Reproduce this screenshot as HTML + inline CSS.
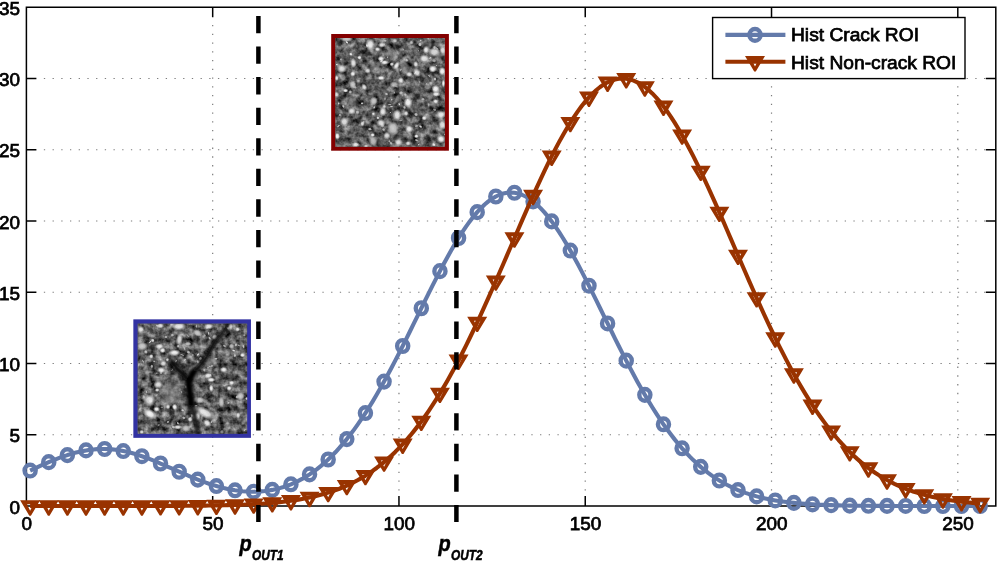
<!DOCTYPE html>
<html lang="en"><head><meta charset="utf-8"><title>Histogram of crack and non-crack ROI</title>
<style>html,body{margin:0;padding:0;background:#fff;overflow:hidden}svg{display:block}text{font-family:"Liberation Sans",Arial,Helvetica,sans-serif;fill:#000}</style></head><body>
<svg width="1000" height="563" viewBox="0 0 1000 563">
<defs>
<filter id="n1" x="0" y="0" width="100%" height="100%" color-interpolation-filters="sRGB"><feTurbulence type="fractalNoise" baseFrequency="0.16" numOctaves="3" seed="7" result="t"/><feColorMatrix type="matrix" values="0.95 0 0 0 -0.12  0.95 0 0 0 -0.12  0.95 0 0 0 -0.12  0 0 0 0 1"/><feGaussianBlur stdDeviation="0.45"/></filter>
<filter id="n2" x="0" y="0" width="100%" height="100%" color-interpolation-filters="sRGB"><feTurbulence type="fractalNoise" baseFrequency="0.16" numOctaves="3" seed="23" result="t"/><feColorMatrix type="matrix" values="0.95 0 0 0 -0.12  0.95 0 0 0 -0.12  0.95 0 0 0 -0.12  0 0 0 0 1"/><feGaussianBlur stdDeviation="0.45"/></filter>
<filter id="b1" x="-20%" y="-20%" width="140%" height="140%"><feGaussianBlur stdDeviation="0.9"/></filter>
<radialGradient id="gb"><stop offset="0" stop-color="#f6f6f6"/><stop offset="0.4" stop-color="#efefef" stop-opacity="0.93"/><stop offset="0.72" stop-color="#d8d8d8" stop-opacity="0.45"/><stop offset="1" stop-color="#bbb" stop-opacity="0"/></radialGradient>
<radialGradient id="gm"><stop offset="0" stop-color="#d0d0d0"/><stop offset="0.5" stop-color="#c4c4c4" stop-opacity="0.9"/><stop offset="0.8" stop-color="#aaa" stop-opacity="0.45"/><stop offset="1" stop-color="#999" stop-opacity="0"/></radialGradient>
<radialGradient id="gg"><stop offset="0" stop-color="#a0a0a0" stop-opacity="0.6"/><stop offset="0.6" stop-color="#999" stop-opacity="0.45"/><stop offset="1" stop-color="#888" stop-opacity="0"/></radialGradient>
<filter id="b2" x="-20%" y="-20%" width="140%" height="140%"><feGaussianBlur stdDeviation="1.6"/></filter>
<filter id="b3" x="-20%" y="-20%" width="140%" height="140%"><feGaussianBlur stdDeviation="3"/></filter>
<clipPath id="c1"><rect x="335.4" y="38" width="109.5" height="108.7"/></clipPath>
<clipPath id="c2"><rect x="137.8" y="323.8" width="109.4" height="110"/></clipPath>
</defs>
<rect width="1000" height="563" fill="#fff"/>
<g stroke="#7c7c7c" stroke-width="1.2" fill="none">
<line x1="212.68" y1="24.95" x2="212.68" y2="496.00" stroke-dasharray="1.3 7.46"/>
<line x1="398.96" y1="24.95" x2="398.96" y2="496.00" stroke-dasharray="1.3 7.46"/>
<line x1="585.24" y1="24.95" x2="585.24" y2="496.00" stroke-dasharray="1.3 7.46"/>
<line x1="771.52" y1="24.95" x2="771.52" y2="496.00" stroke-dasharray="1.3 7.46"/>
<line x1="957.80" y1="24.95" x2="957.80" y2="496.00" stroke-dasharray="1.3 7.46"/>
<line x1="43.85" y1="434.75" x2="985.80" y2="434.75" stroke-dasharray="1.3 7.405"/>
<line x1="43.85" y1="363.50" x2="985.80" y2="363.50" stroke-dasharray="1.3 7.405"/>
<line x1="43.85" y1="292.25" x2="985.80" y2="292.25" stroke-dasharray="1.3 7.405"/>
<line x1="43.85" y1="221.00" x2="985.80" y2="221.00" stroke-dasharray="1.3 7.405"/>
<line x1="43.85" y1="149.75" x2="985.80" y2="149.75" stroke-dasharray="1.3 7.405"/>
<line x1="43.85" y1="78.50" x2="985.80" y2="78.50" stroke-dasharray="1.3 7.405"/>
</g>
<g stroke="#000" stroke-width="1.5" fill="none">
<rect x="26.40" y="7.25" width="969.40" height="498.75"/>
<line x1="212.68" y1="7.25" x2="212.68" y2="17.25"/>
<line x1="212.68" y1="506.00" x2="212.68" y2="496.00"/>
<line x1="398.96" y1="7.25" x2="398.96" y2="17.25"/>
<line x1="398.96" y1="506.00" x2="398.96" y2="496.00"/>
<line x1="585.24" y1="7.25" x2="585.24" y2="17.25"/>
<line x1="585.24" y1="506.00" x2="585.24" y2="496.00"/>
<line x1="771.52" y1="7.25" x2="771.52" y2="17.25"/>
<line x1="771.52" y1="506.00" x2="771.52" y2="496.00"/>
<line x1="957.80" y1="7.25" x2="957.80" y2="17.25"/>
<line x1="957.80" y1="506.00" x2="957.80" y2="496.00"/>
<line x1="26.40" y1="434.75" x2="36.40" y2="434.75"/>
<line x1="995.80" y1="434.75" x2="985.80" y2="434.75"/>
<line x1="26.40" y1="363.50" x2="36.40" y2="363.50"/>
<line x1="995.80" y1="363.50" x2="985.80" y2="363.50"/>
<line x1="26.40" y1="292.25" x2="36.40" y2="292.25"/>
<line x1="995.80" y1="292.25" x2="985.80" y2="292.25"/>
<line x1="26.40" y1="221.00" x2="36.40" y2="221.00"/>
<line x1="995.80" y1="221.00" x2="985.80" y2="221.00"/>
<line x1="26.40" y1="149.75" x2="36.40" y2="149.75"/>
<line x1="995.80" y1="149.75" x2="985.80" y2="149.75"/>
<line x1="26.40" y1="78.50" x2="36.40" y2="78.50"/>
<line x1="995.80" y1="78.50" x2="985.80" y2="78.50"/>
</g>
<g font-size="18.9" stroke="#000" stroke-width="0.75">
<text x="26.70" y="530.3" text-anchor="middle">0</text>
<text x="212.98" y="530.3" text-anchor="middle">50</text>
<text x="399.26" y="530.3" text-anchor="middle">100</text>
<text x="585.54" y="530.3" text-anchor="middle">150</text>
<text x="771.82" y="530.3" text-anchor="middle">200</text>
<text x="958.10" y="530.3" text-anchor="middle">250</text>
<text x="20" y="513.70" text-anchor="end">0</text>
<text x="20" y="442.45" text-anchor="end">5</text>
<text x="20" y="371.20" text-anchor="end">10</text>
<text x="20" y="299.95" text-anchor="end">15</text>
<text x="20" y="228.70" text-anchor="end">20</text>
<text x="20" y="157.45" text-anchor="end">25</text>
<text x="20" y="86.20" text-anchor="end">30</text>
<text x="20" y="14.95" text-anchor="end">35</text>
</g>
<g id="inset1">
<rect x="333.3" y="36.1" width="113.5" height="112.5" fill="#606060" stroke="#830000" stroke-width="4.2"/>
<g clip-path="url(#c1)">
<rect x="335" y="37.5" width="110.5" height="110" filter="url(#n1)"/>
<g>
<ellipse cx="384.9" cy="98.8" rx="2.1" ry="1.5" fill="url(#gm)" transform="rotate(105 384.9 98.8)" opacity="0.62"/>
<ellipse cx="391.5" cy="106.5" rx="1.9" ry="1.0" fill="url(#gm)" transform="rotate(16 391.5 106.5)" opacity="0.87"/>
<ellipse cx="411.3" cy="42.6" rx="2.2" ry="2.2" fill="url(#gb)" transform="rotate(110 411.3 42.6)" opacity="0.61"/>
<ellipse cx="337.0" cy="95.4" rx="1.0" ry="1.1" fill="url(#gm)" transform="rotate(5 337.0 95.4)" opacity="0.74"/>
<ellipse cx="383.6" cy="129.6" rx="1.6" ry="1.7" fill="url(#gm)" transform="rotate(119 383.6 129.6)" opacity="0.73"/>
<ellipse cx="365.9" cy="146.4" rx="2.2" ry="2.0" fill="url(#gb)" transform="rotate(56 365.9 146.4)" opacity="0.64"/>
<ellipse cx="367.0" cy="45.6" rx="1.9" ry="1.4" fill="url(#gb)" transform="rotate(69 367.0 45.6)" opacity="0.93"/>
<ellipse cx="428.2" cy="38.1" rx="1.2" ry="2.1" fill="url(#gm)" transform="rotate(176 428.2 38.1)" opacity="0.71"/>
<ellipse cx="343.4" cy="106.4" rx="1.9" ry="1.3" fill="url(#gm)" transform="rotate(59 343.4 106.4)" opacity="0.94"/>
<ellipse cx="418.4" cy="50.8" rx="1.2" ry="1.0" fill="url(#gm)" transform="rotate(143 418.4 50.8)" opacity="0.62"/>
<ellipse cx="396.6" cy="86.6" rx="1.1" ry="1.9" fill="url(#gm)" transform="rotate(115 396.6 86.6)" opacity="0.6"/>
<ellipse cx="381.5" cy="61.1" rx="1.3" ry="2.2" fill="url(#gb)" transform="rotate(54 381.5 61.1)" opacity="0.9"/>
<ellipse cx="358.5" cy="80.9" rx="2.0" ry="1.7" fill="url(#gm)" transform="rotate(178 358.5 80.9)" opacity="0.64"/>
<ellipse cx="363.7" cy="122.0" rx="1.3" ry="1.3" fill="url(#gm)" transform="rotate(16 363.7 122.0)" opacity="0.78"/>
<ellipse cx="362.0" cy="103.4" rx="1.4" ry="1.5" fill="url(#gb)" transform="rotate(87 362.0 103.4)" opacity="0.78"/>
<ellipse cx="430.3" cy="57.9" rx="1.1" ry="2.1" fill="url(#gb)" transform="rotate(44 430.3 57.9)" opacity="0.63"/>
<ellipse cx="416.4" cy="140.2" rx="1.2" ry="2.1" fill="url(#gb)" transform="rotate(108 416.4 140.2)" opacity="0.72"/>
<ellipse cx="346.8" cy="42.2" rx="2.2" ry="1.2" fill="url(#gb)" transform="rotate(46 346.8 42.2)" opacity="0.88"/>
<ellipse cx="400.7" cy="69.9" rx="1.1" ry="1.8" fill="url(#gm)" transform="rotate(41 400.7 69.9)" opacity="0.77"/>
<ellipse cx="428.7" cy="104.8" rx="1.3" ry="2.1" fill="url(#gm)" transform="rotate(2 428.7 104.8)" opacity="0.66"/>
<ellipse cx="384.2" cy="44.6" rx="1.1" ry="1.4" fill="url(#gm)" transform="rotate(23 384.2 44.6)" opacity="0.69"/>
<ellipse cx="433.0" cy="144.6" rx="1.8" ry="1.8" fill="url(#gm)" transform="rotate(25 433.0 144.6)" opacity="0.56"/>
<ellipse cx="337.4" cy="136.9" rx="1.8" ry="2.2" fill="url(#gm)" transform="rotate(114 337.4 136.9)" opacity="0.74"/>
<ellipse cx="415.4" cy="72.7" rx="2.2" ry="1.0" fill="url(#gm)" transform="rotate(132 415.4 72.7)" opacity="0.91"/>
<ellipse cx="416.1" cy="114.5" rx="1.9" ry="2.1" fill="url(#gm)" transform="rotate(123 416.1 114.5)" opacity="0.91"/>
<ellipse cx="430.8" cy="83.3" rx="1.9" ry="2.0" fill="url(#gm)" transform="rotate(112 430.8 83.3)" opacity="0.7"/>
<ellipse cx="399.2" cy="104.2" rx="1.0" ry="1.7" fill="url(#gb)" transform="rotate(158 399.2 104.2)" opacity="0.84"/>
<ellipse cx="377.9" cy="117.9" rx="1.7" ry="1.5" fill="url(#gb)" transform="rotate(15 377.9 117.9)" opacity="0.85"/>
<ellipse cx="338.7" cy="103.4" rx="1.5" ry="1.2" fill="url(#gb)" transform="rotate(89 338.7 103.4)" opacity="0.8"/>
<ellipse cx="436.2" cy="65.8" rx="0.9" ry="1.3" fill="url(#gb)" transform="rotate(36 436.2 65.8)" opacity="0.62"/>
<ellipse cx="434.6" cy="109.7" rx="1.5" ry="2.1" fill="url(#gm)" transform="rotate(119 434.6 109.7)" opacity="0.63"/>
<ellipse cx="382.6" cy="125.6" rx="2.1" ry="2.0" fill="url(#gm)" transform="rotate(104 382.6 125.6)" opacity="0.68"/>
<ellipse cx="350.3" cy="92.0" rx="2.0" ry="2.0" fill="url(#gb)" transform="rotate(171 350.3 92.0)" opacity="0.66"/>
<ellipse cx="353.9" cy="87.0" rx="1.3" ry="1.2" fill="url(#gm)" transform="rotate(112 353.9 87.0)" opacity="0.75"/>
<ellipse cx="369.9" cy="129.2" rx="2.2" ry="1.5" fill="url(#gm)" transform="rotate(5 369.9 129.2)" opacity="0.9"/>
<ellipse cx="339.9" cy="115.0" rx="1.6" ry="1.3" fill="url(#gb)" transform="rotate(3 339.9 115.0)" opacity="0.6"/>
<ellipse cx="385.2" cy="40.7" rx="2.0" ry="1.2" fill="url(#gm)" transform="rotate(8 385.2 40.7)" opacity="0.8"/>
<ellipse cx="384.3" cy="106.5" rx="1.8" ry="1.9" fill="url(#gb)" transform="rotate(123 384.3 106.5)" opacity="0.63"/>
<ellipse cx="387.4" cy="57.4" rx="0.9" ry="1.5" fill="url(#gb)" transform="rotate(32 387.4 57.4)" opacity="0.66"/>
<ellipse cx="373.3" cy="113.8" rx="1.6" ry="1.7" fill="url(#gb)" transform="rotate(70 373.3 113.8)" opacity="0.87"/>
<ellipse cx="434.6" cy="47.5" rx="2.1" ry="1.8" fill="url(#gm)" transform="rotate(81 434.6 47.5)" opacity="0.8"/>
<ellipse cx="435.0" cy="79.0" rx="1.6" ry="2.0" fill="url(#gb)" transform="rotate(169 435.0 79.0)" opacity="0.74"/>
<ellipse cx="406.7" cy="60.3" rx="1.8" ry="2.0" fill="url(#gb)" transform="rotate(129 406.7 60.3)" opacity="0.64"/>
<ellipse cx="433.9" cy="144.6" rx="2.2" ry="1.6" fill="url(#gb)" transform="rotate(57 433.9 144.6)" opacity="0.91"/>
<ellipse cx="429.1" cy="75.9" rx="1.0" ry="1.5" fill="url(#gm)" transform="rotate(138 429.1 75.9)" opacity="0.74"/>
<ellipse cx="338.5" cy="126.0" rx="1.0" ry="1.9" fill="url(#gm)" transform="rotate(60 338.5 126.0)" opacity="0.87"/>
<ellipse cx="350.8" cy="54.2" rx="1.6" ry="1.8" fill="url(#gb)" transform="rotate(124 350.8 54.2)" opacity="0.93"/>
<ellipse cx="389.3" cy="141.2" rx="1.0" ry="1.2" fill="url(#gm)" transform="rotate(52 389.3 141.2)" opacity="0.84"/>
<ellipse cx="405.4" cy="94.8" rx="2.0" ry="1.6" fill="url(#gm)" transform="rotate(68 405.4 94.8)" opacity="0.89"/>
<ellipse cx="434.0" cy="60.6" rx="2.0" ry="2.2" fill="url(#gm)" transform="rotate(103 434.0 60.6)" opacity="0.63"/>
<ellipse cx="394.1" cy="92.7" rx="1.7" ry="0.9" fill="url(#gb)" transform="rotate(92 394.1 92.7)" opacity="0.71"/>
<ellipse cx="423.1" cy="99.2" rx="1.5" ry="1.8" fill="url(#gm)" transform="rotate(96 423.1 99.2)" opacity="0.72"/>
<ellipse cx="440.2" cy="138.4" rx="1.2" ry="1.5" fill="url(#gm)" transform="rotate(78 440.2 138.4)" opacity="0.88"/>
<ellipse cx="434.0" cy="89.8" rx="1.3" ry="1.1" fill="url(#gb)" transform="rotate(166 434.0 89.8)" opacity="0.6"/>
<ellipse cx="420.7" cy="40.5" rx="1.2" ry="1.2" fill="url(#gb)" transform="rotate(57 420.7 40.5)" opacity="0.69"/>
<ellipse cx="403.3" cy="49.4" rx="1.9" ry="1.1" fill="url(#gm)" transform="rotate(45 403.3 49.4)" opacity="0.63"/>
<ellipse cx="393.5" cy="85.5" rx="1.4" ry="1.4" fill="url(#gm)" transform="rotate(28 393.5 85.5)" opacity="0.63"/>
<ellipse cx="404.5" cy="107.4" rx="1.6" ry="2.0" fill="url(#gb)" transform="rotate(154 404.5 107.4)" opacity="0.64"/>
<ellipse cx="416.5" cy="126.1" rx="2.1" ry="1.3" fill="url(#gm)" transform="rotate(166 416.5 126.1)" opacity="0.64"/>
<ellipse cx="444.7" cy="134.5" rx="1.1" ry="1.2" fill="url(#gb)" transform="rotate(46 444.7 134.5)" opacity="0.59"/>
<ellipse cx="426.5" cy="83.8" rx="1.9" ry="1.1" fill="url(#gm)" transform="rotate(123 426.5 83.8)" opacity="0.56"/>
<ellipse cx="357.4" cy="112.2" rx="2.1" ry="2.2" fill="url(#gm)" transform="rotate(91 357.4 112.2)" opacity="0.85"/>
<ellipse cx="390.5" cy="112.5" rx="1.1" ry="1.0" fill="url(#gm)" transform="rotate(6 390.5 112.5)" opacity="0.77"/>
<ellipse cx="391.8" cy="99.8" rx="1.1" ry="1.1" fill="url(#gm)" transform="rotate(151 391.8 99.8)" opacity="0.95"/>
<ellipse cx="436.9" cy="48.4" rx="1.0" ry="2.1" fill="url(#gm)" transform="rotate(137 436.9 48.4)" opacity="0.68"/>
<ellipse cx="386.5" cy="94.0" rx="1.5" ry="1.7" fill="url(#gm)" transform="rotate(126 386.5 94.0)" opacity="0.89"/>
<ellipse cx="355.2" cy="87.3" rx="1.9" ry="1.4" fill="url(#gm)" transform="rotate(29 355.2 87.3)" opacity="0.76"/>
<ellipse cx="337.1" cy="135.1" rx="1.9" ry="1.8" fill="url(#gb)" transform="rotate(113 337.1 135.1)" opacity="0.71"/>
<ellipse cx="401.1" cy="92.8" rx="2.2" ry="1.9" fill="url(#gm)" transform="rotate(164 401.1 92.8)" opacity="0.85"/>
<ellipse cx="420.6" cy="126.6" rx="1.4" ry="2.1" fill="url(#gb)" transform="rotate(125 420.6 126.6)" opacity="0.86"/>
<ellipse cx="419.2" cy="82.1" rx="1.8" ry="1.0" fill="url(#gm)" transform="rotate(84 419.2 82.1)" opacity="0.55"/>
<ellipse cx="374.3" cy="107.4" rx="1.7" ry="1.2" fill="url(#gb)" transform="rotate(119 374.3 107.4)" opacity="0.69"/>
<ellipse cx="407.6" cy="99.9" rx="1.6" ry="1.4" fill="url(#gb)" transform="rotate(115 407.6 99.9)" opacity="0.83"/>
<ellipse cx="418.8" cy="144.5" rx="0.9" ry="1.7" fill="url(#gb)" transform="rotate(46 418.8 144.5)" opacity="0.71"/>
<ellipse cx="340.9" cy="59.2" rx="1.4" ry="1.0" fill="url(#gm)" transform="rotate(163 340.9 59.2)" opacity="0.77"/>
<ellipse cx="391.0" cy="143.1" rx="1.6" ry="2.2" fill="url(#gb)" transform="rotate(145 391.0 143.1)" opacity="0.58"/>
<ellipse cx="400.8" cy="120.5" rx="1.0" ry="2.1" fill="url(#gm)" transform="rotate(84 400.8 120.5)" opacity="0.62"/>
<ellipse cx="389.7" cy="104.4" rx="1.0" ry="2.1" fill="url(#gm)" transform="rotate(94 389.7 104.4)" opacity="0.79"/>
<ellipse cx="375.4" cy="69.1" rx="1.8" ry="1.6" fill="url(#gm)" transform="rotate(128 375.4 69.1)" opacity="0.67"/>
<ellipse cx="336.9" cy="64.6" rx="1.0" ry="1.1" fill="url(#gb)" transform="rotate(70 336.9 64.6)" opacity="0.91"/>
</g>
<g>
<ellipse cx="391.2" cy="55.2" rx="6.6" ry="5.9" fill="url(#gg)" opacity="0.94"/>
<ellipse cx="374.4" cy="67.8" rx="5.9" ry="5.1" fill="url(#gg)" opacity="0.96"/>
<ellipse cx="404.4" cy="67.8" rx="5.9" ry="6.6" fill="url(#gg)" opacity="0.97"/>
<ellipse cx="352.2" cy="101.4" rx="5.1" ry="5.1" fill="url(#gg)" opacity="0.99"/>
</g>
<g>
<ellipse cx="346.8" cy="39.0" rx="6.6" ry="2.9" fill="url(#gm)" opacity="0.96"/>
<ellipse cx="352.8" cy="84.6" rx="3.6" ry="4.4" fill="url(#gm)" opacity="0.99"/>
<ellipse cx="394.2" cy="84.6" rx="4.4" ry="3.3" fill="url(#gm)" opacity="0.84"/>
<ellipse cx="394.8" cy="40.8" rx="2.4" ry="2.1" fill="url(#gm)" opacity="0.91"/>
<ellipse cx="420.0" cy="44.4" rx="2.1" ry="2.4" fill="url(#gm)" opacity="0.99"/>
<ellipse cx="373.8" cy="100.8" rx="3.9" ry="4.4" fill="url(#gm)" opacity="0.94"/>
<ellipse cx="393.0" cy="128.4" rx="5.9" ry="7.4" fill="url(#gm)" opacity="0.98"/>
<ellipse cx="373.2" cy="141.0" rx="4.4" ry="5.1" fill="url(#gm)" opacity="0.86"/>
</g>
<g>
<ellipse cx="370.2" cy="44.4" rx="5.0" ry="6.5" fill="url(#gb)" opacity="0.92"/>
<ellipse cx="381.6" cy="45.0" rx="3.8" ry="2.8" fill="url(#gb)" opacity="0.88"/>
<ellipse cx="377.4" cy="49.2" rx="2.8" ry="2.4" fill="url(#gb)" opacity="0.93"/>
<ellipse cx="426.0" cy="49.8" rx="3.2" ry="4.3" fill="url(#gb)" opacity="0.93"/>
<ellipse cx="434.4" cy="52.2" rx="6.2" ry="5.3" fill="url(#gb)" opacity="0.84"/>
<ellipse cx="442.8" cy="50.4" rx="3.5" ry="5.0" fill="url(#gb)" opacity="0.87"/>
<ellipse cx="424.2" cy="58.8" rx="5.3" ry="4.7" fill="url(#gb)" opacity="0.88"/>
<ellipse cx="381.0" cy="58.8" rx="3.5" ry="2.8" fill="url(#gb)" opacity="0.99"/>
<ellipse cx="384.6" cy="62.4" rx="4.3" ry="2.4" fill="url(#gb)" opacity="0.96"/>
<ellipse cx="353.4" cy="63.0" rx="3.2" ry="5.0" fill="url(#gb)" opacity="0.87"/>
<ellipse cx="359.4" cy="57.6" rx="2.4" ry="2.1" fill="url(#gb)" opacity="0.97"/>
<ellipse cx="342.0" cy="69.0" rx="5.3" ry="4.3" fill="url(#gb)" opacity="0.86"/>
<ellipse cx="396.6" cy="65.4" rx="2.8" ry="5.0" fill="url(#gb)" transform="rotate(30 396.6 65.4)" opacity="0.94"/>
<ellipse cx="391.8" cy="64.2" rx="2.4" ry="2.1" fill="url(#gb)" opacity="0.86"/>
<ellipse cx="367.8" cy="70.8" rx="3.2" ry="2.8" fill="url(#gb)" opacity="0.84"/>
<ellipse cx="352.8" cy="73.8" rx="2.8" ry="2.8" fill="url(#gb)" opacity="0.98"/>
<ellipse cx="417.0" cy="72.6" rx="3.8" ry="4.7" fill="url(#gb)" transform="rotate(-30 417.0 72.6)" opacity="0.87"/>
<ellipse cx="409.2" cy="74.4" rx="3.5" ry="2.8" fill="url(#gb)" opacity="0.87"/>
<ellipse cx="432.6" cy="69.0" rx="4.3" ry="3.8" fill="url(#gb)"/>
<ellipse cx="442.2" cy="71.4" rx="3.8" ry="4.7" fill="url(#gb)" opacity="0.98"/>
<ellipse cx="415.8" cy="64.2" rx="2.8" ry="3.5" fill="url(#gb)" opacity="0.89"/>
<ellipse cx="381.0" cy="78.0" rx="4.3" ry="2.4" fill="url(#gb)" opacity="0.99"/>
<ellipse cx="400.8" cy="80.4" rx="3.2" ry="3.5" fill="url(#gb)" opacity="0.93"/>
<ellipse cx="336.6" cy="78.0" rx="2.1" ry="2.8" fill="url(#gb)" opacity="0.95"/>
<ellipse cx="364.2" cy="87.0" rx="2.8" ry="3.8" fill="url(#gb)" transform="rotate(-30 364.2 87.0)" opacity="0.87"/>
<ellipse cx="435.6" cy="88.8" rx="4.3" ry="4.3" fill="url(#gb)" opacity="0.99"/>
<ellipse cx="345.6" cy="90.6" rx="2.8" ry="2.1" fill="url(#gb)" opacity="0.95"/>
<ellipse cx="443.4" cy="83.4" rx="1.8" ry="4.3" fill="url(#gb)" opacity="0.99"/>
<ellipse cx="408.0" cy="102.6" rx="4.7" ry="5.3" fill="url(#gb)" opacity="0.98"/>
<ellipse cx="351.6" cy="111.0" rx="4.3" ry="3.5" fill="url(#gb)" opacity="0.89"/>
<ellipse cx="382.8" cy="111.6" rx="3.8" ry="4.7" fill="url(#gb)" opacity="0.9"/>
<ellipse cx="397.2" cy="115.2" rx="4.3" ry="6.5" fill="url(#gb)" opacity="0.87"/>
<ellipse cx="344.4" cy="121.8" rx="4.7" ry="5.0" fill="url(#gb)" opacity="0.86"/>
<ellipse cx="381.0" cy="123.0" rx="4.7" ry="4.3" fill="url(#gb)" opacity="0.85"/>
<ellipse cx="362.4" cy="123.6" rx="2.4" ry="2.8" fill="url(#gb)" opacity="0.89"/>
<ellipse cx="409.2" cy="129.0" rx="4.3" ry="3.8" fill="url(#gb)" opacity="0.94"/>
<ellipse cx="387.0" cy="135.6" rx="3.8" ry="3.8" fill="url(#gb)" opacity="0.84"/>
<ellipse cx="441.0" cy="139.2" rx="5.0" ry="4.3" fill="url(#gb)" opacity="0.95"/>
<ellipse cx="442.2" cy="124.8" rx="4.3" ry="5.7" fill="url(#gb)" opacity="0.89"/>
<ellipse cx="441.0" cy="114.6" rx="5.0" ry="4.3" fill="url(#gb)" opacity="0.89"/>
<ellipse cx="436.2" cy="94.2" rx="4.3" ry="2.8" fill="url(#gb)" opacity="0.97"/>
<ellipse cx="435.6" cy="101.4" rx="2.8" ry="2.4" fill="url(#gb)" opacity="0.92"/>
<ellipse cx="398.4" cy="142.2" rx="4.3" ry="3.8" fill="url(#gb)" opacity="0.89"/>
<ellipse cx="355.8" cy="144.6" rx="4.3" ry="2.8" fill="url(#gb)" opacity="0.92"/>
<ellipse cx="424.2" cy="118.2" rx="2.8" ry="2.4" fill="url(#gb)" opacity="0.95"/>
<ellipse cx="406.2" cy="113.4" rx="2.4" ry="2.8" fill="url(#gb)" opacity="0.85"/>
<ellipse cx="337.2" cy="136.2" rx="2.8" ry="3.5" fill="url(#gb)"/>
<ellipse cx="408.0" cy="143.4" rx="2.8" ry="2.4" fill="url(#gb)" opacity="0.84"/>
<ellipse cx="372.6" cy="135.0" rx="2.4" ry="2.1" fill="url(#gb)" opacity="0.96"/>
<ellipse cx="416.4" cy="136.2" rx="2.4" ry="2.1" fill="url(#gb)" opacity="0.98"/>
<ellipse cx="336.0" cy="94.2" rx="3.5" ry="2.8" fill="url(#gb)" opacity="0.84"/>
</g>
</g></g>
<g id="inset2">
<rect x="135.5" y="321.5" width="113.3" height="114.2" fill="#606060" stroke="#3232A2" stroke-width="4.3"/>
<g clip-path="url(#c2)">
<rect x="137" y="323" width="111" height="111.5" filter="url(#n2)"/>
<g>
<ellipse cx="197.8" cy="361.8" rx="2.0" ry="1.3" fill="url(#gm)" transform="rotate(61 197.8 361.8)" opacity="0.72"/>
<ellipse cx="244.3" cy="335.2" rx="1.5" ry="1.2" fill="url(#gm)" transform="rotate(179 244.3 335.2)" opacity="0.68"/>
<ellipse cx="204.3" cy="370.0" rx="1.8" ry="1.5" fill="url(#gm)" transform="rotate(78 204.3 370.0)" opacity="0.71"/>
<ellipse cx="224.5" cy="385.7" rx="1.2" ry="1.8" fill="url(#gm)" transform="rotate(92 224.5 385.7)" opacity="0.64"/>
<ellipse cx="182.7" cy="410.3" rx="1.6" ry="1.9" fill="url(#gb)" transform="rotate(105 182.7 410.3)" opacity="0.81"/>
<ellipse cx="181.3" cy="391.8" rx="1.9" ry="1.0" fill="url(#gb)" transform="rotate(66 181.3 391.8)" opacity="0.61"/>
<ellipse cx="154.2" cy="361.3" rx="1.0" ry="1.4" fill="url(#gm)" transform="rotate(117 154.2 361.3)" opacity="0.74"/>
<ellipse cx="240.1" cy="396.3" rx="1.3" ry="2.0" fill="url(#gb)" transform="rotate(174 240.1 396.3)" opacity="0.84"/>
<ellipse cx="243.4" cy="346.4" rx="1.3" ry="2.2" fill="url(#gm)" transform="rotate(166 243.4 346.4)" opacity="0.91"/>
<ellipse cx="152.7" cy="340.4" rx="2.1" ry="2.1" fill="url(#gb)" transform="rotate(130 152.7 340.4)" opacity="0.85"/>
<ellipse cx="171.5" cy="324.6" rx="1.7" ry="2.0" fill="url(#gb)" transform="rotate(92 171.5 324.6)" opacity="0.55"/>
<ellipse cx="156.9" cy="373.2" rx="1.2" ry="0.9" fill="url(#gm)" transform="rotate(89 156.9 373.2)" opacity="0.6"/>
<ellipse cx="150.1" cy="342.0" rx="0.9" ry="1.9" fill="url(#gb)" transform="rotate(36 150.1 342.0)" opacity="0.8"/>
<ellipse cx="233.7" cy="350.6" rx="1.3" ry="2.0" fill="url(#gb)" transform="rotate(111 233.7 350.6)" opacity="0.87"/>
<ellipse cx="200.5" cy="358.4" rx="1.8" ry="1.9" fill="url(#gm)" transform="rotate(57 200.5 358.4)" opacity="0.67"/>
<ellipse cx="234.8" cy="355.5" rx="1.8" ry="1.5" fill="url(#gm)" transform="rotate(89 234.8 355.5)" opacity="0.91"/>
<ellipse cx="209.8" cy="366.6" rx="1.1" ry="1.3" fill="url(#gm)" transform="rotate(116 209.8 366.6)" opacity="0.95"/>
<ellipse cx="173.3" cy="427.2" rx="2.1" ry="1.5" fill="url(#gm)" transform="rotate(42 173.3 427.2)" opacity="0.92"/>
<ellipse cx="156.8" cy="395.1" rx="1.7" ry="1.1" fill="url(#gm)" transform="rotate(114 156.8 395.1)" opacity="0.57"/>
<ellipse cx="197.8" cy="430.7" rx="1.5" ry="1.3" fill="url(#gm)" transform="rotate(54 197.8 430.7)" opacity="0.68"/>
<ellipse cx="150.6" cy="401.1" rx="1.7" ry="1.8" fill="url(#gm)" transform="rotate(45 150.6 401.1)" opacity="0.92"/>
<ellipse cx="138.8" cy="364.5" rx="2.0" ry="1.2" fill="url(#gm)" transform="rotate(114 138.8 364.5)" opacity="0.65"/>
<ellipse cx="174.6" cy="366.9" rx="1.3" ry="1.8" fill="url(#gb)" transform="rotate(136 174.6 366.9)" opacity="0.94"/>
<ellipse cx="145.8" cy="352.0" rx="2.2" ry="1.9" fill="url(#gb)" transform="rotate(40 145.8 352.0)" opacity="0.6"/>
<ellipse cx="167.9" cy="422.0" rx="1.9" ry="1.4" fill="url(#gb)" transform="rotate(132 167.9 422.0)" opacity="0.66"/>
<ellipse cx="149.4" cy="413.0" rx="1.8" ry="1.9" fill="url(#gb)" transform="rotate(65 149.4 413.0)" opacity="0.81"/>
<ellipse cx="177.9" cy="423.2" rx="1.1" ry="1.8" fill="url(#gm)" transform="rotate(163 177.9 423.2)" opacity="0.87"/>
<ellipse cx="156.9" cy="325.5" rx="1.2" ry="2.1" fill="url(#gb)" transform="rotate(127 156.9 325.5)" opacity="0.63"/>
<ellipse cx="161.0" cy="372.8" rx="1.6" ry="1.7" fill="url(#gm)" transform="rotate(151 161.0 372.8)" opacity="0.65"/>
<ellipse cx="215.9" cy="358.7" rx="1.3" ry="2.0" fill="url(#gm)" transform="rotate(90 215.9 358.7)" opacity="0.9"/>
<ellipse cx="228.4" cy="402.8" rx="1.2" ry="1.7" fill="url(#gm)" transform="rotate(54 228.4 402.8)" opacity="0.86"/>
<ellipse cx="211.6" cy="422.1" rx="1.5" ry="1.1" fill="url(#gm)" transform="rotate(133 211.6 422.1)" opacity="0.83"/>
<ellipse cx="208.1" cy="367.5" rx="1.7" ry="1.0" fill="url(#gm)" transform="rotate(145 208.1 367.5)" opacity="0.59"/>
<ellipse cx="205.9" cy="356.7" rx="1.1" ry="1.9" fill="url(#gb)" transform="rotate(57 205.9 356.7)" opacity="0.61"/>
<ellipse cx="188.2" cy="336.2" rx="2.1" ry="0.9" fill="url(#gm)" transform="rotate(29 188.2 336.2)" opacity="0.55"/>
<ellipse cx="246.9" cy="398.6" rx="1.8" ry="1.9" fill="url(#gb)" transform="rotate(109 246.9 398.6)" opacity="0.82"/>
<ellipse cx="172.3" cy="335.1" rx="1.8" ry="1.9" fill="url(#gb)" transform="rotate(116 172.3 335.1)" opacity="0.58"/>
<ellipse cx="208.6" cy="333.2" rx="2.0" ry="0.9" fill="url(#gm)" transform="rotate(96 208.6 333.2)" opacity="0.9"/>
<ellipse cx="209.7" cy="338.2" rx="1.8" ry="1.2" fill="url(#gm)" transform="rotate(64 209.7 338.2)" opacity="0.87"/>
<ellipse cx="160.7" cy="359.3" rx="1.3" ry="1.2" fill="url(#gm)" transform="rotate(69 160.7 359.3)" opacity="0.62"/>
<ellipse cx="166.1" cy="337.0" rx="1.7" ry="1.8" fill="url(#gm)" transform="rotate(80 166.1 337.0)" opacity="0.79"/>
<ellipse cx="244.7" cy="430.1" rx="1.0" ry="2.1" fill="url(#gb)" transform="rotate(40 244.7 430.1)" opacity="0.63"/>
<ellipse cx="192.7" cy="355.0" rx="1.3" ry="1.4" fill="url(#gm)" transform="rotate(97 192.7 355.0)" opacity="0.56"/>
<ellipse cx="184.3" cy="348.3" rx="2.1" ry="1.1" fill="url(#gm)" transform="rotate(63 184.3 348.3)" opacity="0.65"/>
<ellipse cx="228.0" cy="328.1" rx="2.1" ry="1.7" fill="url(#gb)" transform="rotate(46 228.0 328.1)" opacity="0.76"/>
<ellipse cx="161.8" cy="407.5" rx="1.6" ry="1.2" fill="url(#gm)" transform="rotate(3 161.8 407.5)" opacity="0.58"/>
<ellipse cx="202.4" cy="433.7" rx="2.1" ry="1.3" fill="url(#gm)" transform="rotate(116 202.4 433.7)" opacity="0.75"/>
<ellipse cx="224.4" cy="345.9" rx="1.4" ry="2.1" fill="url(#gm)" transform="rotate(123 224.4 345.9)" opacity="0.73"/>
<ellipse cx="192.1" cy="415.4" rx="2.2" ry="1.6" fill="url(#gb)" transform="rotate(48 192.1 415.4)" opacity="0.68"/>
<ellipse cx="175.9" cy="361.2" rx="2.2" ry="1.1" fill="url(#gb)" transform="rotate(128 175.9 361.2)" opacity="0.79"/>
<ellipse cx="191.1" cy="417.2" rx="0.9" ry="2.1" fill="url(#gm)" transform="rotate(42 191.1 417.2)" opacity="0.55"/>
<ellipse cx="224.5" cy="326.8" rx="2.0" ry="1.2" fill="url(#gb)" transform="rotate(110 224.5 326.8)" opacity="0.94"/>
<ellipse cx="143.1" cy="361.3" rx="2.2" ry="0.9" fill="url(#gm)" transform="rotate(64 143.1 361.3)" opacity="0.74"/>
<ellipse cx="211.9" cy="365.9" rx="1.4" ry="1.3" fill="url(#gm)" transform="rotate(123 211.9 365.9)" opacity="0.91"/>
<ellipse cx="198.0" cy="354.5" rx="2.2" ry="1.3" fill="url(#gb)" transform="rotate(133 198.0 354.5)" opacity="0.75"/>
<ellipse cx="167.5" cy="359.7" rx="1.8" ry="2.2" fill="url(#gb)" transform="rotate(80 167.5 359.7)" opacity="0.8"/>
<ellipse cx="188.5" cy="352.2" rx="2.0" ry="1.7" fill="url(#gm)" transform="rotate(25 188.5 352.2)" opacity="0.83"/>
<ellipse cx="140.0" cy="409.1" rx="1.0" ry="2.0" fill="url(#gm)" transform="rotate(8 140.0 409.1)" opacity="0.91"/>
<ellipse cx="210.3" cy="374.9" rx="1.2" ry="1.8" fill="url(#gm)" transform="rotate(166 210.3 374.9)" opacity="0.86"/>
<ellipse cx="222.0" cy="431.9" rx="2.2" ry="2.1" fill="url(#gm)" transform="rotate(63 222.0 431.9)" opacity="0.6"/>
<ellipse cx="183.9" cy="417.8" rx="2.0" ry="1.6" fill="url(#gm)" transform="rotate(10 183.9 417.8)" opacity="0.82"/>
<ellipse cx="172.3" cy="369.8" rx="0.9" ry="2.0" fill="url(#gm)" transform="rotate(35 172.3 369.8)" opacity="0.73"/>
<ellipse cx="151.8" cy="366.3" rx="2.1" ry="1.6" fill="url(#gm)" transform="rotate(91 151.8 366.3)" opacity="0.83"/>
<ellipse cx="237.3" cy="396.9" rx="2.2" ry="1.9" fill="url(#gm)" transform="rotate(139 237.3 396.9)" opacity="0.93"/>
<ellipse cx="236.0" cy="344.8" rx="2.1" ry="1.6" fill="url(#gb)" transform="rotate(124 236.0 344.8)" opacity="0.61"/>
<ellipse cx="196.4" cy="326.4" rx="1.6" ry="1.2" fill="url(#gm)" transform="rotate(97 196.4 326.4)" opacity="0.77"/>
<ellipse cx="143.9" cy="396.9" rx="2.1" ry="1.6" fill="url(#gm)" transform="rotate(87 143.9 396.9)" opacity="0.7"/>
<ellipse cx="196.0" cy="405.7" rx="1.9" ry="1.2" fill="url(#gb)" transform="rotate(177 196.0 405.7)" opacity="0.72"/>
<ellipse cx="185.0" cy="359.9" rx="0.9" ry="1.8" fill="url(#gb)" transform="rotate(74 185.0 359.9)" opacity="0.66"/>
<ellipse cx="207.1" cy="327.8" rx="1.5" ry="1.3" fill="url(#gm)" transform="rotate(143 207.1 327.8)" opacity="0.9"/>
<ellipse cx="174.6" cy="407.7" rx="1.1" ry="2.0" fill="url(#gm)" transform="rotate(159 174.6 407.7)" opacity="0.93"/>
<ellipse cx="186.1" cy="386.8" rx="2.0" ry="1.7" fill="url(#gb)" transform="rotate(58 186.1 386.8)" opacity="0.69"/>
<ellipse cx="183.2" cy="355.4" rx="1.0" ry="1.4" fill="url(#gm)" transform="rotate(133 183.2 355.4)" opacity="0.55"/>
<ellipse cx="204.7" cy="335.5" rx="1.3" ry="1.7" fill="url(#gm)" transform="rotate(155 204.7 335.5)" opacity="0.66"/>
<ellipse cx="146.6" cy="391.9" rx="1.6" ry="1.0" fill="url(#gm)" transform="rotate(65 146.6 391.9)" opacity="0.78"/>
<ellipse cx="178.2" cy="346.1" rx="1.8" ry="1.7" fill="url(#gb)" transform="rotate(132 178.2 346.1)" opacity="0.65"/>
<ellipse cx="181.5" cy="354.5" rx="1.8" ry="1.0" fill="url(#gm)" transform="rotate(26 181.5 354.5)" opacity="0.65"/>
<ellipse cx="179.7" cy="389.7" rx="1.9" ry="1.7" fill="url(#gm)" transform="rotate(118 179.7 389.7)" opacity="0.56"/>
<ellipse cx="158.9" cy="425.0" rx="0.9" ry="1.2" fill="url(#gm)" transform="rotate(81 158.9 425.0)" opacity="0.79"/>
<ellipse cx="238.7" cy="345.4" rx="1.8" ry="1.0" fill="url(#gm)" transform="rotate(38 238.7 345.4)" opacity="0.7"/>
</g>
<g>
<ellipse cx="210.0" cy="362.4" rx="8.1" ry="6.6" fill="url(#gg)" opacity="0.94"/>
<ellipse cx="195.0" cy="373.8" rx="5.9" ry="5.9" fill="url(#gg)" opacity="0.96"/>
<ellipse cx="171.6" cy="393.6" rx="15.6" ry="14.1" fill="url(#gg)" opacity="0.97"/>
</g>
<g>
<ellipse cx="142.2" cy="346.2" rx="5.9" ry="4.4" fill="url(#gm)" opacity="0.99"/>
<ellipse cx="197.4" cy="333.0" rx="5.1" ry="3.3" fill="url(#gm)" transform="rotate(30 197.4 333.0)" opacity="0.96"/>
<ellipse cx="214.8" cy="337.2" rx="2.9" ry="2.9" fill="url(#gm)" opacity="0.99"/>
<ellipse cx="187.8" cy="343.8" rx="3.6" ry="2.1" fill="url(#gm)" opacity="0.84"/>
<ellipse cx="231.6" cy="346.2" rx="2.9" ry="2.9" fill="url(#gm)" opacity="0.91"/>
<ellipse cx="199.8" cy="400.2" rx="5.1" ry="3.6" fill="url(#gm)" opacity="0.99"/>
<ellipse cx="221.4" cy="402.0" rx="2.9" ry="5.9" fill="url(#gm)" opacity="0.94"/>
<ellipse cx="240.6" cy="396.0" rx="4.4" ry="4.4" fill="url(#gm)" opacity="0.98"/>
<ellipse cx="186.0" cy="428.4" rx="4.4" ry="3.6" fill="url(#gm)" opacity="0.86"/>
</g>
<g>
<ellipse cx="141.0" cy="329.4" rx="3.8" ry="3.8" fill="url(#gb)" opacity="0.92"/>
<ellipse cx="160.2" cy="325.8" rx="4.3" ry="2.8" fill="url(#gb)" opacity="0.88"/>
<ellipse cx="178.8" cy="326.4" rx="7.9" ry="4.3" fill="url(#gb)" opacity="0.93"/>
<ellipse cx="208.8" cy="326.4" rx="5.0" ry="3.2" fill="url(#gb)" opacity="0.93"/>
<ellipse cx="230.4" cy="326.4" rx="2.8" ry="3.5" fill="url(#gb)" opacity="0.84"/>
<ellipse cx="179.4" cy="339.6" rx="3.8" ry="6.5" fill="url(#gb)" transform="rotate(10 179.4 339.6)" opacity="0.87"/>
<ellipse cx="159.6" cy="346.2" rx="4.3" ry="2.8" fill="url(#gb)" opacity="0.88"/>
<ellipse cx="174.6" cy="352.8" rx="6.5" ry="3.5" fill="url(#gb)" opacity="0.99"/>
<ellipse cx="162.6" cy="350.4" rx="3.2" ry="2.8" fill="url(#gb)" opacity="0.96"/>
<ellipse cx="163.2" cy="363.6" rx="3.8" ry="3.2" fill="url(#gb)" opacity="0.87"/>
<ellipse cx="161.4" cy="370.2" rx="4.3" ry="3.2" fill="url(#gb)" opacity="0.97"/>
<ellipse cx="151.2" cy="356.4" rx="2.4" ry="2.4" fill="url(#gb)" opacity="0.86"/>
<ellipse cx="223.8" cy="369.6" rx="3.8" ry="2.8" fill="url(#gb)" opacity="0.94"/>
<ellipse cx="208.2" cy="375.6" rx="4.3" ry="2.8" fill="url(#gb)" opacity="0.86"/>
<ellipse cx="237.6" cy="329.4" rx="2.4" ry="2.4" fill="url(#gb)" opacity="0.84"/>
<ellipse cx="242.4" cy="355.2" rx="2.8" ry="2.4" fill="url(#gb)" opacity="0.98"/>
<ellipse cx="158.4" cy="384.6" rx="5.0" ry="3.8" fill="url(#gb)" opacity="0.87"/>
<ellipse cx="149.4" cy="400.2" rx="6.5" ry="6.5" fill="url(#gb)" opacity="0.87"/>
<ellipse cx="150.0" cy="414.0" rx="7.9" ry="5.0" fill="url(#gb)" transform="rotate(30 150.0 414.0)"/>
<ellipse cx="156.6" cy="409.2" rx="3.5" ry="2.8" fill="url(#gb)" opacity="0.98"/>
<ellipse cx="205.2" cy="412.8" rx="12.3" ry="5.0" fill="url(#gb)" transform="rotate(25 205.2 412.8)" opacity="0.89"/>
<ellipse cx="197.4" cy="416.4" rx="3.5" ry="5.0" fill="url(#gb)" opacity="0.99"/>
<ellipse cx="207.0" cy="423.0" rx="5.0" ry="3.5" fill="url(#gb)" transform="rotate(40 207.0 423.0)" opacity="0.93"/>
<ellipse cx="174.6" cy="406.8" rx="2.8" ry="3.2" fill="url(#gb)" opacity="0.95"/>
<ellipse cx="168.0" cy="406.8" rx="2.4" ry="2.8" fill="url(#gb)" opacity="0.87"/>
<ellipse cx="211.2" cy="379.8" rx="4.3" ry="2.4" fill="url(#gb)" opacity="0.99"/>
<ellipse cx="231.6" cy="382.8" rx="2.8" ry="2.4" fill="url(#gb)" opacity="0.95"/>
<ellipse cx="211.2" cy="388.2" rx="2.4" ry="3.8" fill="url(#gb)" opacity="0.99"/>
<ellipse cx="229.2" cy="388.2" rx="2.8" ry="2.8" fill="url(#gb)" opacity="0.98"/>
<ellipse cx="177.6" cy="427.2" rx="4.3" ry="2.4" fill="url(#gb)" opacity="0.89"/>
<ellipse cx="190.2" cy="419.4" rx="2.8" ry="2.8" fill="url(#gb)" opacity="0.9"/>
<ellipse cx="157.2" cy="390.0" rx="2.4" ry="2.1" fill="url(#gb)" opacity="0.87"/>
<ellipse cx="141.6" cy="432.0" rx="2.4" ry="2.4" fill="url(#gb)" opacity="0.86"/>
<ellipse cx="238.2" cy="415.2" rx="2.4" ry="3.2" fill="url(#gb)" opacity="0.85"/>
</g>
<g fill="none" stroke-linecap="round" stroke-linejoin="round">
<path d="M172.2 362.4 L177.0 369.0 L183.6 374.4 L189.6 382.8 M193.2 372.6 L188.4 381.6 L189.4 390.0 L190.6 398.4 L191.1 406.2" stroke="#1a1a1a" stroke-width="11" opacity="0.5" filter="url(#b3)"/>
<path d="M228.0 323.4 L221.4 334.2 L214.2 342.0 L209.4 351.6 L204.6 360.0 L199.8 366.0 L193.2 372.6 M191.1 406.2 L194.2 414.0 L196.6 423.6 L197.8 434.4" stroke="#222" stroke-width="6" opacity="0.45" filter="url(#b2)"/>
<g filter="url(#b1)">
<path d="M228.0 323.4 L221.4 334.2 L214.2 342.0" stroke="#0c0c0c" stroke-width="2.5"/>
<path d="M214.2 342.0 L209.4 351.6 L204.6 360.0 L199.8 366.0 L193.2 372.6" stroke="#0c0c0c" stroke-width="3.2"/>
<path d="M172.2 362.4 L177.0 369.0 L183.6 374.4 L189.6 382.8" stroke="#0e0e0e" stroke-width="4.2"/>
<path d="M193.2 372.6 L188.4 381.6 L189.4 390.0 L190.6 398.4 L191.1 406.2" stroke="#060606" stroke-width="5.6"/>
<path d="M191.1 406.2 L194.2 414.0 L196.6 423.6 L197.8 434.4" stroke="#1a1a1a" stroke-width="2.6"/>
</g>
</g>
</g></g>
<g fill="none" stroke="#637AAA">
<path d="M30.13 470.56 L33.85 468.84 L37.58 467.13 L41.30 465.44 L45.03 463.79 L48.75 462.17 L52.48 460.61 L56.20 459.11 L59.93 457.68 L63.66 456.33 L67.38 455.08 L71.11 453.92 L74.83 452.86 L78.56 451.93 L82.28 451.11 L86.01 450.42 L89.74 449.85 L93.46 449.43 L97.19 449.14 L100.91 449.00 L104.64 448.99 L108.36 449.13 L112.09 449.41 L115.81 449.83 L119.54 450.38 L123.27 451.06 L126.99 451.87 L130.72 452.79 L134.44 453.83 L138.17 454.98 L141.89 456.21 L145.62 457.54 L149.34 458.94 L153.07 460.42 L156.80 461.94 L160.52 463.52 L164.25 465.13 L167.97 466.77 L171.70 468.42 L175.42 470.08 L179.15 471.74 L182.88 473.38 L186.60 474.99 L190.33 476.57 L194.05 478.12 L197.78 479.61 L201.50 481.04 L205.23 482.41 L208.95 483.70 L212.68 484.92 L216.41 486.05 L220.13 487.10 L223.86 488.05 L227.58 488.90 L231.31 489.64 L235.03 490.28 L238.76 490.81 L242.48 491.22 L246.21 491.51 L249.94 491.67 L253.66 491.71 L257.39 491.62 L261.11 491.40 L264.84 491.03 L268.56 490.53 L272.29 489.88 L276.02 489.08 L279.74 488.13 L283.47 487.01 L287.19 485.74 L290.92 484.29 L294.64 482.67 L298.37 480.88 L302.09 478.90 L305.82 476.73 L309.55 474.37 L313.27 471.81 L317.00 469.05 L320.72 466.07 L324.45 462.89 L328.17 459.49 L331.90 455.87 L335.62 452.02 L339.35 447.95 L343.08 443.64 L346.80 439.11 L350.53 434.35 L354.25 429.36 L357.98 424.14 L361.70 418.70 L365.43 413.03 L369.16 407.15 L372.88 401.06 L376.61 394.77 L380.33 388.28 L384.06 381.62 L387.78 374.78 L391.51 367.78 L395.23 360.65 L398.96 353.38 L402.69 346.01 L406.41 338.55 L410.14 331.02 L413.86 323.45 L417.59 315.85 L421.31 308.24 L425.04 300.67 L428.76 293.14 L432.49 285.69 L436.22 278.35 L439.94 271.14 L443.67 264.08 L447.39 257.21 L451.12 250.56 L454.84 244.14 L458.57 238.00 L462.30 232.14 L466.02 226.61 L469.75 221.42 L473.47 216.60 L477.20 212.17 L480.92 208.15 L484.65 204.55 L488.37 201.40 L492.10 198.71 L495.83 196.49 L499.55 194.75 L503.28 193.50 L507.00 192.75 L510.73 192.50 L514.45 192.75 L518.18 193.50 L521.90 194.75 L525.63 196.49 L529.36 198.71 L533.08 201.40 L536.81 204.55 L540.53 208.15 L544.26 212.17 L547.98 216.60 L551.71 221.42 L555.44 226.61 L559.16 232.14 L562.89 238.00 L566.61 244.14 L570.34 250.56 L574.06 257.21 L577.79 264.08 L581.51 271.14 L585.24 278.35 L588.97 285.70 L592.69 293.15 L596.42 300.67 L600.14 308.25 L603.87 315.85 L607.59 323.45 L611.32 331.03 L615.04 338.56 L618.77 346.03 L622.50 353.40 L626.22 360.67 L629.95 367.81 L633.67 374.82 L637.40 381.66 L641.12 388.34 L644.85 394.84 L648.58 401.14 L652.30 407.25 L656.03 413.15 L659.75 418.84 L663.48 424.30 L667.20 429.55 L670.93 434.58 L674.65 439.38 L678.38 443.96 L682.11 448.31 L685.83 452.45 L689.56 456.37 L693.28 460.08 L697.01 463.57 L700.73 466.87 L704.46 469.96 L708.18 472.86 L711.91 475.58 L715.64 478.12 L719.36 480.49 L723.09 482.70 L726.81 484.74 L730.54 486.64 L734.26 488.40 L737.99 490.03 L741.72 491.52 L745.44 492.90 L749.17 494.17 L752.89 495.33 L756.62 496.39 L760.34 497.36 L764.07 498.24 L767.79 499.05 L771.52 499.78 L775.25 500.44 L778.97 501.04 L782.70 501.59 L786.42 502.08 L790.15 502.52 L793.87 502.91 L797.60 503.27 L801.32 503.59 L805.05 503.87 L808.78 504.13 L812.50 504.35 L816.23 504.55 L819.95 504.73 L823.68 504.89 L827.40 505.03 L831.13 505.16 L834.86 505.26 L838.58 505.36 L842.31 505.45 L846.03 505.52 L849.76 505.58 L853.48 505.64 L857.21 505.69 L860.93 505.73 L864.66 505.77 L868.39 505.80 L872.11 505.83 L875.84 505.86 L879.56 505.88 L883.29 505.89 L887.01 505.91 L890.74 505.92 L894.46 505.94 L898.19 505.95 L901.92 505.95 L905.64 505.96 L909.37 505.97 L913.09 505.97 L916.82 505.98 L920.54 505.98 L924.27 505.98 L928.00 505.99 L931.72 505.99 L935.45 505.99 L939.17 505.99 L942.90 505.99 L946.62 505.99 L950.35 506.00 L954.07 506.00 L957.80 506.00 L961.53 506.00 L965.25 506.00 L968.98 506.00 L972.70 506.00 L976.43 506.00 L980.15 506.00" stroke-width="4.1" stroke-linejoin="round"/>
<ellipse cx="30.13" cy="470.56" rx="5.55" ry="5.85" stroke-width="4.4"/>
<ellipse cx="48.75" cy="462.17" rx="5.55" ry="5.85" stroke-width="4.4"/>
<ellipse cx="67.38" cy="455.08" rx="5.55" ry="5.85" stroke-width="4.4"/>
<ellipse cx="86.01" cy="450.42" rx="5.55" ry="5.85" stroke-width="4.4"/>
<ellipse cx="104.64" cy="448.99" rx="5.55" ry="5.85" stroke-width="4.4"/>
<ellipse cx="123.27" cy="451.06" rx="5.55" ry="5.85" stroke-width="4.4"/>
<ellipse cx="141.89" cy="456.21" rx="5.55" ry="5.85" stroke-width="4.4"/>
<ellipse cx="160.52" cy="463.52" rx="5.55" ry="5.85" stroke-width="4.4"/>
<ellipse cx="179.15" cy="471.74" rx="5.55" ry="5.85" stroke-width="4.4"/>
<ellipse cx="197.78" cy="479.61" rx="5.55" ry="5.85" stroke-width="4.4"/>
<ellipse cx="216.41" cy="486.05" rx="5.55" ry="5.85" stroke-width="4.4"/>
<ellipse cx="235.03" cy="490.28" rx="5.55" ry="5.85" stroke-width="4.4"/>
<ellipse cx="253.66" cy="491.71" rx="5.55" ry="5.85" stroke-width="4.4"/>
<ellipse cx="272.29" cy="489.88" rx="5.55" ry="5.85" stroke-width="4.4"/>
<ellipse cx="290.92" cy="484.29" rx="5.55" ry="5.85" stroke-width="4.4"/>
<ellipse cx="309.55" cy="474.37" rx="5.55" ry="5.85" stroke-width="4.4"/>
<ellipse cx="328.17" cy="459.49" rx="5.55" ry="5.85" stroke-width="4.4"/>
<ellipse cx="346.80" cy="439.11" rx="5.55" ry="5.85" stroke-width="4.4"/>
<ellipse cx="365.43" cy="413.03" rx="5.55" ry="5.85" stroke-width="4.4"/>
<ellipse cx="384.06" cy="381.62" rx="5.55" ry="5.85" stroke-width="4.4"/>
<ellipse cx="402.69" cy="346.01" rx="5.55" ry="5.85" stroke-width="4.4"/>
<ellipse cx="421.31" cy="308.24" rx="5.55" ry="5.85" stroke-width="4.4"/>
<ellipse cx="439.94" cy="271.14" rx="5.55" ry="5.85" stroke-width="4.4"/>
<ellipse cx="458.57" cy="238.00" rx="5.55" ry="5.85" stroke-width="4.4"/>
<ellipse cx="477.20" cy="212.17" rx="5.55" ry="5.85" stroke-width="4.4"/>
<ellipse cx="495.83" cy="196.49" rx="5.55" ry="5.85" stroke-width="4.4"/>
<ellipse cx="514.45" cy="192.75" rx="5.55" ry="5.85" stroke-width="4.4"/>
<ellipse cx="533.08" cy="201.40" rx="5.55" ry="5.85" stroke-width="4.4"/>
<ellipse cx="551.71" cy="221.42" rx="5.55" ry="5.85" stroke-width="4.4"/>
<ellipse cx="570.34" cy="250.56" rx="5.55" ry="5.85" stroke-width="4.4"/>
<ellipse cx="588.97" cy="285.70" rx="5.55" ry="5.85" stroke-width="4.4"/>
<ellipse cx="607.59" cy="323.45" rx="5.55" ry="5.85" stroke-width="4.4"/>
<ellipse cx="626.22" cy="360.67" rx="5.55" ry="5.85" stroke-width="4.4"/>
<ellipse cx="644.85" cy="394.84" rx="5.55" ry="5.85" stroke-width="4.4"/>
<ellipse cx="663.48" cy="424.30" rx="5.55" ry="5.85" stroke-width="4.4"/>
<ellipse cx="682.11" cy="448.31" rx="5.55" ry="5.85" stroke-width="4.4"/>
<ellipse cx="700.73" cy="466.87" rx="5.55" ry="5.85" stroke-width="4.4"/>
<ellipse cx="719.36" cy="480.49" rx="5.55" ry="5.85" stroke-width="4.4"/>
<ellipse cx="737.99" cy="490.03" rx="5.55" ry="5.85" stroke-width="4.4"/>
<ellipse cx="756.62" cy="496.39" rx="5.55" ry="5.85" stroke-width="4.4"/>
<ellipse cx="775.25" cy="500.44" rx="5.55" ry="5.85" stroke-width="4.4"/>
<ellipse cx="793.87" cy="502.91" rx="5.55" ry="5.85" stroke-width="4.4"/>
<ellipse cx="812.50" cy="504.35" rx="5.55" ry="5.85" stroke-width="4.4"/>
<ellipse cx="831.13" cy="505.16" rx="5.55" ry="5.85" stroke-width="4.4"/>
<ellipse cx="849.76" cy="505.58" rx="5.55" ry="5.85" stroke-width="4.4"/>
<ellipse cx="868.39" cy="505.80" rx="5.55" ry="5.85" stroke-width="4.4"/>
<ellipse cx="887.01" cy="505.91" rx="5.55" ry="5.85" stroke-width="4.4"/>
<ellipse cx="905.64" cy="505.96" rx="5.55" ry="5.85" stroke-width="4.4"/>
<ellipse cx="924.27" cy="505.98" rx="5.55" ry="5.85" stroke-width="4.4"/>
<ellipse cx="942.90" cy="505.99" rx="5.55" ry="5.85" stroke-width="4.4"/>
<ellipse cx="961.53" cy="506.00" rx="5.55" ry="5.85" stroke-width="4.4"/>
<ellipse cx="980.15" cy="506.00" rx="5.55" ry="5.85" stroke-width="4.4"/>
</g>
<g fill="none" stroke="#993300">
<path d="M30.13 506.00 L33.85 506.00 L37.58 506.00 L41.30 506.00 L45.03 506.00 L48.75 506.00 L52.48 506.00 L56.20 506.00 L59.93 506.00 L63.66 506.00 L67.38 506.00 L71.11 506.00 L74.83 506.00 L78.56 506.00 L82.28 506.00 L86.01 506.00 L89.74 506.00 L93.46 505.99 L97.19 505.99 L100.91 505.99 L104.64 505.99 L108.36 505.99 L112.09 505.99 L115.81 505.99 L119.54 505.98 L123.27 505.98 L126.99 505.98 L130.72 505.97 L134.44 505.97 L138.17 505.96 L141.89 505.96 L145.62 505.95 L149.34 505.95 L153.07 505.94 L156.80 505.93 L160.52 505.92 L164.25 505.90 L167.97 505.89 L171.70 505.87 L175.42 505.86 L179.15 505.84 L182.88 505.81 L186.60 505.79 L190.33 505.76 L194.05 505.72 L197.78 505.69 L201.50 505.65 L205.23 505.60 L208.95 505.54 L212.68 505.49 L216.41 505.42 L220.13 505.34 L223.86 505.26 L227.58 505.17 L231.31 505.06 L235.03 504.95 L238.76 504.82 L242.48 504.68 L246.21 504.52 L249.94 504.35 L253.66 504.15 L257.39 503.94 L261.11 503.71 L264.84 503.45 L268.56 503.16 L272.29 502.84 L276.02 502.50 L279.74 502.12 L283.47 501.71 L287.19 501.25 L290.92 500.75 L294.64 500.21 L298.37 499.62 L302.09 498.98 L305.82 498.28 L309.55 497.52 L313.27 496.69 L317.00 495.80 L320.72 494.83 L324.45 493.79 L328.17 492.66 L331.90 491.44 L335.62 490.14 L339.35 488.73 L343.08 487.22 L346.80 485.60 L350.53 483.86 L354.25 482.00 L357.98 480.02 L361.70 477.90 L365.43 475.65 L369.16 473.24 L372.88 470.69 L376.61 467.99 L380.33 465.12 L384.06 462.08 L387.78 458.87 L391.51 455.48 L395.23 451.91 L398.96 448.14 L402.69 444.19 L406.41 440.04 L410.14 435.69 L413.86 431.13 L417.59 426.37 L421.31 421.40 L425.04 416.22 L428.76 410.82 L432.49 405.22 L436.22 399.40 L439.94 393.37 L443.67 387.14 L447.39 380.70 L451.12 374.05 L454.84 367.21 L458.57 360.18 L462.30 352.95 L466.02 345.55 L469.75 337.98 L473.47 330.25 L477.20 322.36 L480.92 314.34 L484.65 306.18 L488.37 297.91 L492.10 289.54 L495.83 281.08 L499.55 272.55 L503.28 263.97 L507.00 255.35 L510.73 246.71 L514.45 238.07 L518.18 229.45 L521.90 220.87 L525.63 212.35 L529.36 203.91 L533.08 195.57 L536.81 187.36 L540.53 179.29 L544.26 171.39 L547.98 163.68 L551.71 156.19 L555.44 148.92 L559.16 141.91 L562.89 135.17 L566.61 128.73 L570.34 122.61 L574.06 116.81 L577.79 111.37 L581.51 106.29 L585.24 101.60 L588.97 97.31 L592.69 93.43 L596.42 89.98 L600.14 86.97 L603.87 84.40 L607.59 82.28 L611.32 80.63 L615.04 79.45 L618.77 78.74 L622.50 78.50 L626.22 78.74 L629.95 79.45 L633.67 80.63 L637.40 82.28 L641.12 84.40 L644.85 86.97 L648.58 89.98 L652.30 93.43 L656.03 97.31 L659.75 101.60 L663.48 106.29 L667.20 111.37 L670.93 116.81 L674.65 122.61 L678.38 128.73 L682.11 135.17 L685.83 141.91 L689.56 148.92 L693.28 156.19 L697.01 163.68 L700.73 171.39 L704.46 179.29 L708.18 187.36 L711.91 195.57 L715.64 203.91 L719.36 212.35 L723.09 220.87 L726.81 229.45 L730.54 238.07 L734.26 246.71 L737.99 255.35 L741.72 263.97 L745.44 272.55 L749.17 281.08 L752.89 289.54 L756.62 297.91 L760.34 306.18 L764.07 314.34 L767.79 322.36 L771.52 330.25 L775.25 337.98 L778.97 345.55 L782.70 352.95 L786.42 360.18 L790.15 367.21 L793.87 374.05 L797.60 380.70 L801.32 387.14 L805.05 393.37 L808.78 399.40 L812.50 405.22 L816.23 410.82 L819.95 416.22 L823.68 421.40 L827.40 426.37 L831.13 431.13 L834.86 435.69 L838.58 440.04 L842.31 444.19 L846.03 448.14 L849.76 451.91 L853.48 455.48 L857.21 458.87 L860.93 462.08 L864.66 465.12 L868.39 467.99 L872.11 470.69 L875.84 473.24 L879.56 475.65 L883.29 477.90 L887.01 480.02 L890.74 482.00 L894.46 483.86 L898.19 485.60 L901.92 487.22 L905.64 488.73 L909.37 490.14 L913.09 491.44 L916.82 492.66 L920.54 493.79 L924.27 494.83 L928.00 495.80 L931.72 496.69 L935.45 497.52 L939.17 498.28 L942.90 498.98 L946.62 499.62 L950.35 500.21 L954.07 500.75 L957.80 501.25 L961.53 501.71 L965.25 502.12 L968.98 502.50 L972.70 502.84 L976.43 503.16 L980.15 503.45" stroke-width="4.1" stroke-linejoin="round"/>
<path d="M20.13 500.30 L40.13 500.30 L30.93 515.70 L29.33 515.70 Z M26.93 504.30 L33.33 504.30 L30.13 510.70 Z" fill="#993300" fill-rule="evenodd" stroke="none"/>
<path d="M38.75 500.30 L58.75 500.30 L49.55 515.70 L47.95 515.70 Z M45.55 504.30 L51.95 504.30 L48.75 510.70 Z" fill="#993300" fill-rule="evenodd" stroke="none"/>
<path d="M57.38 500.30 L77.38 500.30 L68.18 515.70 L66.58 515.70 Z M64.18 504.30 L70.58 504.30 L67.38 510.70 Z" fill="#993300" fill-rule="evenodd" stroke="none"/>
<path d="M76.01 500.30 L96.01 500.30 L86.81 515.70 L85.21 515.70 Z M82.81 504.30 L89.21 504.30 L86.01 510.70 Z" fill="#993300" fill-rule="evenodd" stroke="none"/>
<path d="M94.64 500.29 L114.64 500.29 L105.44 515.69 L103.84 515.69 Z M101.44 504.29 L107.84 504.29 L104.64 510.69 Z" fill="#993300" fill-rule="evenodd" stroke="none"/>
<path d="M113.27 500.28 L133.27 500.28 L124.07 515.68 L122.47 515.68 Z M120.07 504.28 L126.47 504.28 L123.27 510.68 Z" fill="#993300" fill-rule="evenodd" stroke="none"/>
<path d="M131.89 500.26 L151.89 500.26 L142.69 515.66 L141.09 515.66 Z M138.69 504.26 L145.09 504.26 L141.89 510.66 Z" fill="#993300" fill-rule="evenodd" stroke="none"/>
<path d="M150.52 500.22 L170.52 500.22 L161.32 515.62 L159.72 515.62 Z M157.32 504.22 L163.72 504.22 L160.52 510.62 Z" fill="#993300" fill-rule="evenodd" stroke="none"/>
<path d="M169.15 500.14 L189.15 500.14 L179.95 515.54 L178.35 515.54 Z M175.95 504.14 L182.35 504.14 L179.15 510.54 Z" fill="#993300" fill-rule="evenodd" stroke="none"/>
<path d="M187.78 499.99 L207.78 499.99 L198.58 515.39 L196.98 515.39 Z M194.58 503.99 L200.98 503.99 L197.78 510.39 Z" fill="#993300" fill-rule="evenodd" stroke="none"/>
<path d="M206.41 499.72 L226.41 499.72 L217.21 515.12 L215.61 515.12 Z M213.21 503.72 L219.61 503.72 L216.41 510.12 Z" fill="#993300" fill-rule="evenodd" stroke="none"/>
<path d="M225.03 499.25 L245.03 499.25 L235.83 514.65 L234.23 514.65 Z M231.83 503.25 L238.23 503.25 L235.03 509.65 Z" fill="#993300" fill-rule="evenodd" stroke="none"/>
<path d="M243.66 498.45 L263.66 498.45 L254.46 513.85 L252.86 513.85 Z M250.46 502.45 L256.86 502.45 L253.66 508.85 Z" fill="#993300" fill-rule="evenodd" stroke="none"/>
<path d="M262.29 497.14 L282.29 497.14 L273.09 512.54 L271.49 512.54 Z M269.09 501.14 L275.49 501.14 L272.29 507.54 Z" fill="#993300" fill-rule="evenodd" stroke="none"/>
<path d="M280.92 495.05 L300.92 495.05 L291.72 510.45 L290.12 510.45 Z M287.72 499.05 L294.12 499.05 L290.92 505.45 Z" fill="#993300" fill-rule="evenodd" stroke="none"/>
<path d="M299.55 491.82 L319.55 491.82 L310.35 507.22 L308.75 507.22 Z M306.35 495.82 L312.75 495.82 L309.55 502.22 Z" fill="#993300" fill-rule="evenodd" stroke="none"/>
<path d="M318.17 486.96 L338.17 486.96 L328.97 502.36 L327.37 502.36 Z M324.97 490.96 L331.37 490.96 L328.17 497.36 Z" fill="#993300" fill-rule="evenodd" stroke="none"/>
<path d="M336.80 479.90 L356.80 479.90 L347.60 495.30 L346.00 495.30 Z M343.60 483.90 L350.00 483.90 L346.80 490.30 Z" fill="#993300" fill-rule="evenodd" stroke="none"/>
<path d="M355.43 469.95 L375.43 469.95 L366.23 485.35 L364.63 485.35 Z M362.23 473.95 L368.63 473.95 L365.43 480.35 Z" fill="#993300" fill-rule="evenodd" stroke="none"/>
<path d="M374.06 456.38 L394.06 456.38 L384.86 471.78 L383.26 471.78 Z M380.86 460.38 L387.26 460.38 L384.06 466.78 Z" fill="#993300" fill-rule="evenodd" stroke="none"/>
<path d="M392.69 438.49 L412.69 438.49 L403.49 453.89 L401.89 453.89 Z M399.49 442.49 L405.89 442.49 L402.69 448.89 Z" fill="#993300" fill-rule="evenodd" stroke="none"/>
<path d="M411.31 415.70 L431.31 415.70 L422.11 431.10 L420.51 431.10 Z M418.11 419.70 L424.51 419.70 L421.31 426.10 Z" fill="#993300" fill-rule="evenodd" stroke="none"/>
<path d="M429.94 387.67 L449.94 387.67 L440.74 403.07 L439.14 403.07 Z M436.74 391.67 L443.14 391.67 L439.94 398.07 Z" fill="#993300" fill-rule="evenodd" stroke="none"/>
<path d="M448.57 354.48 L468.57 354.48 L459.37 369.88 L457.77 369.88 Z M455.37 358.48 L461.77 358.48 L458.57 364.88 Z" fill="#993300" fill-rule="evenodd" stroke="none"/>
<path d="M467.20 316.66 L487.20 316.66 L478.00 332.06 L476.40 332.06 Z M474.00 320.66 L480.40 320.66 L477.20 327.06 Z" fill="#993300" fill-rule="evenodd" stroke="none"/>
<path d="M485.83 275.38 L505.83 275.38 L496.63 290.78 L495.03 290.78 Z M492.63 279.38 L499.03 279.38 L495.83 285.78 Z" fill="#993300" fill-rule="evenodd" stroke="none"/>
<path d="M504.45 232.37 L524.45 232.37 L515.25 247.77 L513.65 247.77 Z M511.25 236.37 L517.65 236.37 L514.45 242.77 Z" fill="#993300" fill-rule="evenodd" stroke="none"/>
<path d="M523.08 189.87 L543.08 189.87 L533.88 205.27 L532.28 205.27 Z M529.88 193.87 L536.28 193.87 L533.08 200.27 Z" fill="#993300" fill-rule="evenodd" stroke="none"/>
<path d="M541.71 150.49 L561.71 150.49 L552.51 165.89 L550.91 165.89 Z M548.51 154.49 L554.91 154.49 L551.71 160.89 Z" fill="#993300" fill-rule="evenodd" stroke="none"/>
<path d="M560.34 116.91 L580.34 116.91 L571.14 132.31 L569.54 132.31 Z M567.14 120.91 L573.54 120.91 L570.34 127.31 Z" fill="#993300" fill-rule="evenodd" stroke="none"/>
<path d="M578.97 91.61 L598.97 91.61 L589.77 107.01 L588.17 107.01 Z M585.77 95.61 L592.17 95.61 L588.97 102.01 Z" fill="#993300" fill-rule="evenodd" stroke="none"/>
<path d="M597.59 76.58 L617.59 76.58 L608.39 91.98 L606.79 91.98 Z M604.39 80.58 L610.79 80.58 L607.59 86.98 Z" fill="#993300" fill-rule="evenodd" stroke="none"/>
<path d="M616.22 73.04 L636.22 73.04 L627.02 88.44 L625.42 88.44 Z M623.02 77.04 L629.42 77.04 L626.22 83.44 Z" fill="#993300" fill-rule="evenodd" stroke="none"/>
<path d="M634.85 81.27 L654.85 81.27 L645.65 96.67 L644.05 96.67 Z M641.65 85.27 L648.05 85.27 L644.85 91.67 Z" fill="#993300" fill-rule="evenodd" stroke="none"/>
<path d="M653.48 100.59 L673.48 100.59 L664.28 115.99 L662.68 115.99 Z M660.28 104.59 L666.68 104.59 L663.48 110.99 Z" fill="#993300" fill-rule="evenodd" stroke="none"/>
<path d="M672.11 129.47 L692.11 129.47 L682.91 144.87 L681.31 144.87 Z M678.91 133.47 L685.31 133.47 L682.11 139.87 Z" fill="#993300" fill-rule="evenodd" stroke="none"/>
<path d="M690.73 165.69 L710.73 165.69 L701.53 181.09 L699.93 181.09 Z M697.53 169.69 L703.93 169.69 L700.73 176.09 Z" fill="#993300" fill-rule="evenodd" stroke="none"/>
<path d="M709.36 206.65 L729.36 206.65 L720.16 222.05 L718.56 222.05 Z M716.16 210.65 L722.56 210.65 L719.36 217.05 Z" fill="#993300" fill-rule="evenodd" stroke="none"/>
<path d="M727.99 249.65 L747.99 249.65 L738.79 265.05 L737.19 265.05 Z M734.79 253.65 L741.19 253.65 L737.99 260.05 Z" fill="#993300" fill-rule="evenodd" stroke="none"/>
<path d="M746.62 292.21 L766.62 292.21 L757.42 307.61 L755.82 307.61 Z M753.42 296.21 L759.82 296.21 L756.62 302.61 Z" fill="#993300" fill-rule="evenodd" stroke="none"/>
<path d="M765.25 332.28 L785.25 332.28 L776.05 347.68 L774.45 347.68 Z M772.05 336.28 L778.45 336.28 L775.25 342.68 Z" fill="#993300" fill-rule="evenodd" stroke="none"/>
<path d="M783.87 368.35 L803.87 368.35 L794.67 383.75 L793.07 383.75 Z M790.67 372.35 L797.07 372.35 L793.87 378.75 Z" fill="#993300" fill-rule="evenodd" stroke="none"/>
<path d="M802.50 399.52 L822.50 399.52 L813.30 414.92 L811.70 414.92 Z M809.30 403.52 L815.70 403.52 L812.50 409.92 Z" fill="#993300" fill-rule="evenodd" stroke="none"/>
<path d="M821.13 425.43 L841.13 425.43 L831.93 440.83 L830.33 440.83 Z M827.93 429.43 L834.33 429.43 L831.13 435.83 Z" fill="#993300" fill-rule="evenodd" stroke="none"/>
<path d="M839.76 446.21 L859.76 446.21 L850.56 461.61 L848.96 461.61 Z M846.56 450.21 L852.96 450.21 L849.76 456.61 Z" fill="#993300" fill-rule="evenodd" stroke="none"/>
<path d="M858.39 462.29 L878.39 462.29 L869.19 477.69 L867.59 477.69 Z M865.19 466.29 L871.59 466.29 L868.39 472.69 Z" fill="#993300" fill-rule="evenodd" stroke="none"/>
<path d="M877.01 474.32 L897.01 474.32 L887.81 489.72 L886.21 489.72 Z M883.81 478.32 L890.21 478.32 L887.01 484.72 Z" fill="#993300" fill-rule="evenodd" stroke="none"/>
<path d="M895.64 483.03 L915.64 483.03 L906.44 498.43 L904.84 498.43 Z M902.44 487.03 L908.84 487.03 L905.64 493.43 Z" fill="#993300" fill-rule="evenodd" stroke="none"/>
<path d="M914.27 489.13 L934.27 489.13 L925.07 504.53 L923.47 504.53 Z M921.07 493.13 L927.47 493.13 L924.27 499.53 Z" fill="#993300" fill-rule="evenodd" stroke="none"/>
<path d="M932.90 493.28 L952.90 493.28 L943.70 508.68 L942.10 508.68 Z M939.70 497.28 L946.10 497.28 L942.90 503.68 Z" fill="#993300" fill-rule="evenodd" stroke="none"/>
<path d="M951.53 496.01 L971.53 496.01 L962.33 511.41 L960.73 511.41 Z M958.33 500.01 L964.73 500.01 L961.53 506.41 Z" fill="#993300" fill-rule="evenodd" stroke="none"/>
<path d="M970.15 497.75 L990.15 497.75 L980.95 513.15 L979.35 513.15 Z M976.95 501.75 L983.35 501.75 L980.15 508.15 Z" fill="#993300" fill-rule="evenodd" stroke="none"/>
</g>
<line x1="258.4" y1="16" x2="258.4" y2="522" stroke="#000" stroke-width="4.5" stroke-dasharray="17.3 13.26"/>
<line x1="456.4" y1="16" x2="456.4" y2="522" stroke="#000" stroke-width="4.5" stroke-dasharray="17.3 13.26"/>
<rect x="712.6" y="17.5" width="252.4" height="61.1" fill="#fff" stroke="#000" stroke-width="1.4"/>
<g fill="none" stroke="#637AAA"><line x1="725.4" y1="34.9" x2="785.4" y2="34.9" stroke-width="4.1"/><ellipse cx="755.00" cy="34.90" rx="5.55" ry="5.85" stroke-width="4.4"/></g>
<g fill="none" stroke="#993300"><line x1="725.4" y1="61.7" x2="785.4" y2="61.7" stroke-width="4.1"/><path d="M745.00 56.00 L765.00 56.00 L755.80 71.40 L754.20 71.40 Z M751.80 60.00 L758.20 60.00 L755.00 66.40 Z" fill="#993300" fill-rule="evenodd" stroke="none"/></g>
<g font-size="18.9" stroke="#000" stroke-width="0.75">
<text x="791" y="41.3" textLength="128" lengthAdjust="spacingAndGlyphs">Hist Crack ROI</text>
<text x="791" y="68.5" textLength="165.4" lengthAdjust="spacingAndGlyphs">Hist Non-crack ROI</text>
</g>
<text x="239.4" y="550.8" font-size="21.5" font-weight="bold" font-style="italic" stroke="#000" stroke-width="0.5" textLength="12.2" lengthAdjust="spacingAndGlyphs">p</text>
<text x="252.0" y="559.6" font-size="14" font-weight="bold" font-style="italic" stroke="#000" stroke-width="0.5" textLength="31.6" lengthAdjust="spacingAndGlyphs">OUT1</text>
<text x="438.5" y="550.8" font-size="21.5" font-weight="bold" font-style="italic" stroke="#000" stroke-width="0.5" textLength="12.2" lengthAdjust="spacingAndGlyphs">p</text>
<text x="451.1" y="559.6" font-size="14" font-weight="bold" font-style="italic" stroke="#000" stroke-width="0.5" textLength="31.6" lengthAdjust="spacingAndGlyphs">OUT2</text>
</svg></body></html>
